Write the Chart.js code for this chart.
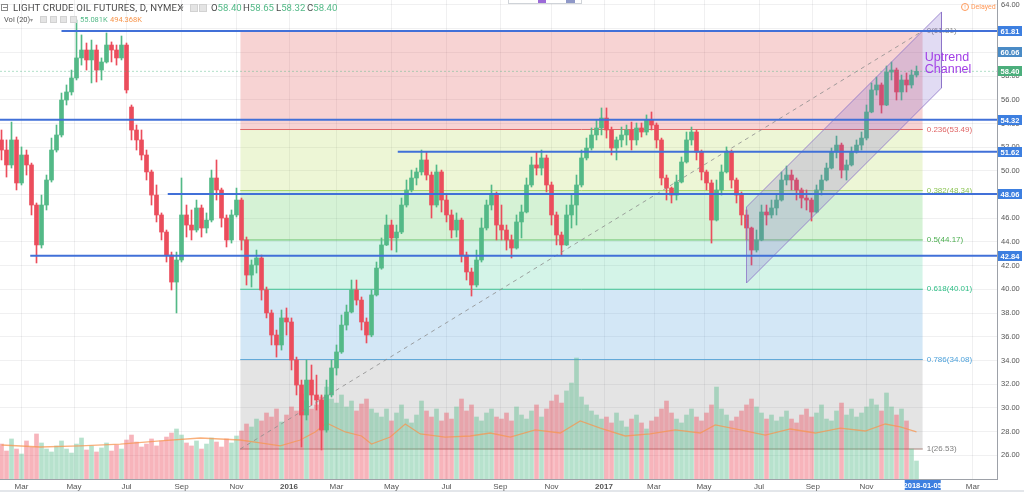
<!DOCTYPE html>
<html><head><meta charset="utf-8">
<script src="https://cdn.jsdelivr.net/npm/chart.js@4.4.1/dist/chart.umd.min.js"></script>
<style>
html,body{margin:0;padding:0;background:#fff;width:1024px;height:492px;overflow:hidden;}
#wrap{position:relative;width:1024px;height:492px;}
canvas{position:absolute;left:0;top:0;}
.t{position:absolute;white-space:nowrap;font-family:Roboto,"Liberation Sans",Arial,sans-serif;}
.ic{position:absolute;background:#e4e4e4;border:1px solid #d2d2d2;box-sizing:border-box;}
</style></head><body>
<div id="wrap">
<canvas id="c" width="1024" height="492"></canvas>
<div class="t" style="left:1px;top:4px;width:7px;height:7px;border:1px solid #8a8a8a;box-sizing:border-box;"></div>
<div class="t" style="left:2.5px;top:7px;width:4px;height:1px;background:#8a8a8a;"></div>
<div class="t" style="left:13px;top:2px;font-size:9.6px;line-height:12px;color:#4a4a4a;letter-spacing:0.15px;">LIGHT CRUDE OIL FUTURES, D, NYMEX</div>
<div class="t" style="left:180px;top:2px;font-size:7px;line-height:12px;color:#9a9a9a;">▾</div>
<div class="ic" style="left:190px;top:4px;width:8px;height:8px;"></div>
<div class="ic" style="left:199px;top:4px;width:8px;height:8px;"></div>
<div class="t" style="left:211px;top:2px;font-size:9.6px;line-height:12px;color:#4a4a4a;">O<span style="color:#53b987">58.40</span></div>
<div class="t" style="left:243px;top:2px;font-size:9.6px;line-height:12px;color:#4a4a4a;">H<span style="color:#53b987">58.65</span></div>
<div class="t" style="left:276px;top:2px;font-size:9.6px;line-height:12px;color:#4a4a4a;">L<span style="color:#53b987">58.32</span></div>
<div class="t" style="left:307px;top:2px;font-size:9.6px;line-height:12px;color:#4a4a4a;">C<span style="color:#53b987">58.40</span></div>
<div class="t" style="left:4px;top:14px;font-size:7.5px;line-height:11px;color:#555;">Vol (20)</div>
<div class="t" style="left:30px;top:14px;font-size:6px;line-height:11px;color:#9a9a9a;">▾</div>
<div class="ic" style="left:40px;top:16px;width:7px;height:7px;"></div>
<div class="ic" style="left:50px;top:16px;width:7px;height:7px;"></div>
<div class="ic" style="left:60px;top:16px;width:7px;height:7px;"></div>
<div class="ic" style="left:70px;top:16px;width:7px;height:7px;"></div>
<div class="t" style="left:80px;top:14px;font-size:7.5px;line-height:11px;color:#53b987;">55.081K</div>
<div class="t" style="left:110px;top:14px;font-size:7.5px;line-height:11px;color:#f7944a;">494.368K</div>
<div class="t" style="left:508px;top:-1px;width:74px;height:5px;border:1px solid #cfd3d8;background:#fff;box-sizing:border-box;"></div>
<div class="t" style="left:538px;top:0px;width:8px;height:3px;background:#9c6ad8;"></div>
<div class="t" style="left:566px;top:0px;width:9px;height:3px;background:#8f98c8;"></div>
<div class="t" style="left:961px;top:3px;width:8px;height:8px;border:1px solid #ff9a5a;border-radius:50%;box-sizing:border-box;font-size:6px;line-height:6px;text-align:center;color:#ff9a5a;">!</div>
<div class="t" style="left:971px;top:1px;font-size:7px;line-height:12px;color:#ff9a5a;">Delayed</div>
</div>
<script>
// ---------- DATA ----------
// trading-day index relative to first session of 2016; bars sampled every 4 sessions
const firstBarIndex = -230;
const barStep = 4;
const opens = [52.61,51.76,50.50,52.61,48.98,51.34,50.50,47.12,43.75,47.12,49.23,51.76,53.03,55.98,56.66,57.84,59.53,60.20,59.36,60.20,58.51,59.19,60.62,60.20,59.53,60.62,55.39,53.45,52.61,51.34,49.91,47.96,46.28,44.84,42.90,40.62,42.48,46.28,45.43,45.01,46.87,45.18,45.85,49.40,48.39,46.02,44.17,46.28,47.54,44.17,41.21,42.06,42.65,39.95,38.01,36.15,35.31,37.59,37.25,34.04,31.93,29.40,32.35,31.09,30.67,28.13,31.09,33.37,34.72,36.99,38.09,39.95,39.10,37.25,36.15,39.53,41.80,43.75,45.43,44.34,44.84,47.12,48.39,49.40,49.91,50.92,49.65,47.12,49.91,47.54,46.28,45.01,45.85,42.90,41.47,40.37,42.48,45.18,47.12,47.96,45.43,45.01,44.17,43.49,45.69,46.53,48.81,50.50,50.24,51.09,48.81,46.28,44.59,43.75,46.28,47.12,48.81,51.09,51.93,53.03,53.62,54.46,53.45,51.93,52.61,53.03,53.45,52.61,53.62,53.28,54.29,53.87,52.61,49.40,48.55,47.96,49.06,50.75,52.61,53.28,51.59,49.91,48.98,45.85,48.39,49.91,51.59,49.23,47.96,46.28,45.18,43.32,44.17,46.53,46.28,46.87,47.54,49.23,49.65,49.23,48.39,47.71,47.54,46.53,48.39,49.23,50.24,51.59,52.18,50.07,50.50,51.59,52.18,52.77,54.97,56.83,57.25,55.56,58.34,58.51,56.66,57.67,57.25,58.09];
const highs = [53.45,52.61,54.12,52.86,52.02,51.76,50.66,47.29,47.96,49.65,52.77,53.87,56.57,57.25,58.51,62.73,61.47,60.79,61.04,60.62,59.53,61.64,60.88,60.62,61.38,60.79,55.56,53.87,53.45,51.76,50.07,48.81,46.45,45.01,43.15,43.15,49.40,47.12,46.70,47.54,47.12,46.45,50.07,50.92,48.55,46.28,46.70,48.55,47.71,44.42,42.48,43.32,42.90,40.20,38.26,36.57,38.26,38.43,37.59,34.29,32.35,34.04,33.62,32.77,31.09,32.35,34.04,35.31,37.84,38.68,40.79,40.79,39.36,37.59,39.95,42.31,44.34,46.28,45.85,45.43,47.71,49.23,50.07,50.24,51.76,51.59,49.91,50.50,50.07,47.96,46.70,46.45,46.02,43.15,41.80,43.32,46.02,47.54,48.81,48.22,47.12,45.43,44.59,46.28,47.12,49.40,51.17,51.59,51.76,51.34,49.06,46.53,44.84,47.12,47.96,49.65,51.76,52.77,53.62,54.29,55.31,55.31,53.70,52.86,53.70,53.87,54.12,54.04,54.04,54.72,54.97,54.04,52.77,49.65,48.64,49.65,51.17,53.28,53.70,53.45,51.76,50.07,49.23,49.23,50.50,52.02,51.76,49.40,48.22,46.70,45.26,45.01,47.12,47.12,47.54,47.96,49.91,50.41,50.07,49.40,48.55,48.39,47.71,48.81,49.65,50.66,51.93,52.94,52.35,50.92,52.02,52.61,53.28,55.56,57.42,57.92,57.42,58.85,59.19,58.68,58.09,58.26,58.51,58.85];
const lows = [50.92,49.48,50.24,48.39,48.81,49.65,46.28,42.23,43.49,46.70,49.06,51.59,52.86,55.56,56.40,57.67,58.93,58.51,57.42,57.50,57.67,59.10,59.19,58.93,59.36,56.57,52.61,51.76,50.92,49.23,47.12,45.69,44.17,42.31,39.95,38.01,42.31,44.42,44.17,44.84,44.42,44.76,45.69,47.54,45.26,43.58,43.91,46.11,43.32,40.37,40.20,41.38,39.10,37.59,35.31,34.29,34.88,36.15,33.20,31.09,26.70,28.98,30.24,29.82,26.45,27.95,30.92,32.77,34.60,36.57,38.01,38.68,36.57,35.48,36.00,39.44,41.70,43.70,43.32,43.15,44.70,46.95,48.22,48.81,49.65,49.23,46.02,46.95,46.53,45.69,44.34,44.42,42.31,40.79,39.44,40.20,42.31,45.01,46.70,44.17,44.17,43.32,42.65,43.40,44.34,46.45,48.64,49.65,49.65,48.22,45.43,43.75,42.90,43.70,45.18,45.43,48.64,50.92,51.76,52.61,53.03,52.77,51.34,50.92,52.02,52.18,51.76,52.18,52.86,53.03,53.45,51.93,48.81,47.54,47.29,47.54,48.98,50.66,52.18,50.92,49.23,48.39,43.91,45.77,47.96,49.82,48.55,47.29,45.43,44.17,42.06,43.15,44.10,45.43,46.02,46.28,47.45,48.81,48.39,47.54,46.87,46.70,45.77,46.45,47.96,49.15,50.16,51.09,49.40,49.23,50.41,51.50,51.76,52.61,54.90,56.40,54.88,55.50,57.67,55.98,55.98,56.66,56.99,57.92];
const closes = [51.76,50.50,52.61,48.98,51.34,50.50,47.12,43.75,47.12,49.23,51.76,53.03,55.98,56.66,57.84,59.53,60.20,59.36,60.20,58.51,59.19,60.62,60.20,59.53,60.62,56.83,53.45,52.61,51.34,49.91,47.96,46.28,44.84,42.90,40.62,42.48,46.28,45.43,45.01,46.87,45.18,45.85,49.40,48.39,46.02,44.17,46.28,47.54,44.17,41.21,42.06,42.65,39.95,38.01,36.15,35.31,37.59,37.25,34.04,31.93,29.40,32.35,31.09,30.67,28.13,31.09,33.37,34.72,36.99,38.09,39.95,39.10,37.25,36.15,39.53,41.80,43.75,45.43,44.34,44.84,47.12,48.39,49.40,49.91,50.92,49.65,47.12,49.91,47.54,46.28,45.01,45.85,42.90,41.47,40.37,42.48,45.18,47.12,47.96,45.43,45.01,44.17,43.49,45.69,46.53,48.81,50.50,50.24,51.09,48.81,46.28,44.59,43.75,46.28,47.12,48.81,51.09,51.93,53.03,53.62,54.46,53.45,51.93,52.61,53.03,53.45,52.61,53.62,53.28,54.29,53.87,52.61,49.40,48.55,47.96,49.06,50.75,52.61,53.28,51.59,49.91,48.98,45.85,48.39,49.91,51.59,49.23,47.96,46.28,45.18,43.32,44.17,46.53,46.28,46.87,47.54,49.23,49.65,49.23,48.39,47.71,47.54,46.53,48.39,49.23,50.24,51.59,52.18,50.07,50.50,51.59,52.18,52.77,54.97,56.83,57.25,55.56,58.34,58.51,56.66,57.67,57.25,58.09,58.40];
const volumesK = [365,292,418,313,261,397,334,470,376,313,282,345,397,313,271,365,428,303,345,282,324,376,292,355,313,407,459,386,334,365,418,345,397,438,480,522,459,376,345,397,313,365,428,386,334,418,376,449,
501,574,543,626,606,689,647,731,595,668,752,710,887,
814,731,773,856,960,835,793,877,752,814,710,783,835,731,689,
647,731,606,689,773,626,585,668,814,710,647,731,606,689,626,752,835,710,773,647,606,689,731,647,626,
689,606,752,668,626,710,773,647,731,814,877,793,919,1002,1263,856,773,710,668,626,
647,585,689,606,543,626,668,585,522,606,647,731,814,689,626,585,668,731,647,606,689,773,960,731,668,606,647,710,773,835,
752,689,626,668,606,647,710,626,585,668,731,647,689,773,626,606,710,793,668,731,647,689,752,835,773,710,898,752,668,731,606,313,188];
const volMaIndex = [-230,-199,-167,-135,-103,-71,-39,-23,-7,9,21,30,45,58,66,81,93,105,125,145,161,177,197,217,233,249,269,289,309,329,341,361,381,401,421,441,461,477,489,502];
const volMaK = [355,334,345,365,397,428,407,376,345,407,491,585,491,449,365,438,574,470,438,449,480,438,512,480,606,532,449,470,512,480,564,512,459,522,480,532,501,574,543,491];

const xTickIndex = [-214,-172,-130,-86,-42,0,38,82,126,169,210,252,292,332,376,419,462,547];
const xTickLabels = ['Mar','May','Jul','Sep','Nov','2016','Mar','May','Jul','Sep','Nov','2017','Mar','May','Jul','Sep','Nov','Mar'];
const lastDateIndex = 507, lastDateLabel = '2018-01-05';
const yTickValues = [26,28,30,32,34,36,38,40,42,44,46,48,50,52,54,56,58,60,62,64];

const fibStartIndex = -39, fibEndIndex = 507;
const fibRatios = ['0','0.236','0.382','0.5','0.618','0.786','1'];
const fibPrices = [61.81,53.49,48.34,44.17,40.01,34.08,26.53];

const srPrices = [61.81,54.32,51.62,48.06,42.84];
const srStartIndex = [-182,-232,87,-97,-207];
const lastPrice = 58.40;
const channelIndex = [366,522,522,366,366];
const channelPrices = [46.95,63.41,57.00,40.54,46.95];
const channelLabel = ['Uptrend','Channel'];
const tagPrices = [61.81,60.06,58.40,54.32,51.62,48.06,42.84];

// ---------- STYLE ----------
const UP='#53b987', DOWN='#eb4d5c';
const fibLineColors=['#8c8c8c','#e06666','#a7d66e','#6cc36c','#3fc391','#5fa8d8','#a88078'];
const fibFillColors=['rgba(0,0,0,0)','rgba(220,70,70,0.24)','rgba(175,215,70,0.22)','rgba(80,200,80,0.24)','rgba(60,205,150,0.22)','rgba(80,160,220,0.25)','rgba(120,120,120,0.2)'];
const fibTextColors=['#8c8c8c','#e06666','#8cc456','#4caf50','#2ebd85','#4ea2db','#7f7f7f'];
const tagColors=['#3d7fe0','#4a8bc6','#4cae7c','#3d7fe0','#3d7fe0','#3d7fe0','#3d7fe0'];
const GRID='rgba(42,46,57,0.07)';
const FONT='"Liberation Sans", Arial, sans-serif';
Chart.defaults.font.family = FONT;

const barX = closes.map((_,i)=>firstBarIndex + i*barStep);
const candleColor = closes.map((c,i)=> c>=opens[i]?UP:DOWN);
const volColor = closes.map((c,i)=> c>=opens[i]?'rgba(83,185,135,0.42)':'rgba(235,77,92,0.42)');
const xMin=-231.2, xMax=566.4;

const datasets=[];
fibPrices.forEach((p,i)=>datasets.push({type:'line',data:[{x:fibStartIndex,y:p},{x:fibEndIndex,y:p}],
  borderColor:fibLineColors[i],borderWidth:1,pointRadius:0,fill:i===0?false:'-1',backgroundColor:fibFillColors[i],order:40+i}));
datasets.push({type:'bar',yAxisID:'yv',data:barX.map((x,i)=>({x,y:volumesK[i]})),backgroundColor:volColor,barThickness:4,grouped:false,order:31});
datasets.push({type:'line',yAxisID:'yv',data:volMaIndex.map((x,i)=>({x,y:volMaK[i]})),borderColor:'rgba(247,150,80,0.75)',borderWidth:1.3,pointRadius:0,fill:false,order:30});
datasets.push({type:'bar',data:barX.map((x,i)=>({x,y:[lows[i],highs[i]]})),backgroundColor:candleColor,barThickness:1,grouped:false,order:21});
datasets.push({type:'bar',data:barX.map((x,i)=>({x,y:[opens[i],closes[i]]})),backgroundColor:candleColor,barThickness:4,grouped:false,order:20});
datasets.push({type:'line',data:channelIndex.map((x,i)=>({x,y:channelPrices[i]})),borderColor:'rgba(140,115,200,0.8)',borderWidth:1,pointRadius:0,fill:'shape',backgroundColor:'rgba(120,90,200,0.22)',order:12});
datasets.push({type:'line',data:[{x:fibStartIndex,y:fibPrices[6]},{x:fibEndIndex,y:fibPrices[0]}],borderColor:'rgba(140,140,140,0.8)',borderDash:[4,4],borderWidth:1,pointRadius:0,fill:false,order:11});
srPrices.forEach((p,i)=>datasets.push({type:'line',data:[{x:srStartIndex[i],y:p},{x:xMax,y:p}],borderColor:'#4170d8',borderWidth:2,pointRadius:0,fill:false,order:10}));
datasets.push({type:'line',data:[{x:xMin,y:lastPrice},{x:xMax,y:lastPrice}],borderColor:'rgba(83,185,135,0.45)',borderDash:[2,2],borderWidth:1,pointRadius:0,fill:false,order:9});

const annot={id:'annot',
 beforeDraw(chart){const c=chart.ctx;c.save();c.fillStyle='#e3e6ea';c.fillRect(0,490,1024,2);c.restore();},
 beforeDatasetsDraw(chart){
   const c=chart.ctx,x=chart.scales.x,y=chart.scales.y;c.save();
   c.font='8px '+FONT;c.textBaseline='middle';c.textAlign='left';
   fibPrices.forEach((p,i)=>{c.fillStyle=fibTextColors[i];c.fillText(fibRatios[i]+'('+p.toFixed(2)+')',x.getPixelForValue(fibEndIndex)+4,y.getPixelForValue(p));});
   c.restore();},
 afterDatasetsDraw(chart){
   const c=chart.ctx,x=chart.scales.x,y=chart.scales.y;c.save();
   c.font='12.5px '+FONT;c.fillStyle='#a23ee6';c.textBaseline='middle';c.textAlign='left';
   const tx=x.getPixelForValue(fibEndIndex)+2;
   c.fillText(channelLabel[0],tx,y.getPixelForValue(59.55));
   c.fillText(channelLabel[1],tx,y.getPixelForValue(58.52));
   c.restore();},
 afterDraw(chart){
   const c=chart.ctx,x=chart.scales.x,y=chart.scales.y;c.save();
   c.font='bold 7.5px '+FONT;c.textBaseline='middle';c.textAlign='center';
   tagPrices.forEach((p,i)=>{const py=Math.round(y.getPixelForValue(p));c.fillStyle=tagColors[i];c.fillRect(y.left+1,py-5,24,10);c.fillStyle='#fff';c.fillText(p.toFixed(2),y.left+13,py+0.5);});
   const dx=x.getPixelForValue(lastDateIndex);c.fillStyle='#3d7fe0';c.fillRect(dx-18,480,36,10);c.fillStyle='#fff';c.fillText(lastDateLabel,dx,485.5);
   c.restore();}
};

new Chart(document.getElementById('c'),{
 type:'bar',
 data:{datasets},
 options:{responsive:false,devicePixelRatio:1,animation:false,
  layout:{padding:0},
  plugins:{legend:{display:false},tooltip:{enabled:false}},
  scales:{
   x:{type:'linear',min:xMin,max:xMax,offset:false,
      grid:{color:GRID,drawTicks:false,offset:false},
      border:{display:true,color:'#9da1a8'},
      ticks:{padding:3,color:'#555',maxRotation:0,autoSkip:false,
        font:(ctx)=>({size:8,weight:(ctx.tick&&/^\d{4}$/.test(xTickLabels[ctx.index]||''))?'bold':'normal'}),
        callback:(v,i)=>xTickLabels[i]},
      afterBuildTicks:(ax)=>{ax.ticks=xTickIndex.map(v=>({value:v}));},
      afterFit:(ax)=>{ax.height=13;ax.paddingLeft=0;ax.paddingRight=0;}},
   y:{position:'right',min:24.0,max:64.42,
      grid:{color:GRID,drawTicks:false},
      border:{display:true,color:'#9da1a8'},
      ticks:{padding:4,color:'#555',font:{size:7.5},callback:(v)=>Number(v).toFixed(2)},
      afterBuildTicks:(ax)=>{ax.ticks=yTickValues.map(v=>({value:v}));},
      afterFit:(ax)=>{ax.width=27;ax.paddingTop=0;ax.paddingBottom=0;}},
   yv:{display:false,min:0,max:5000}
  }},
 plugins:[annot]
});
</script>
</body></html>
